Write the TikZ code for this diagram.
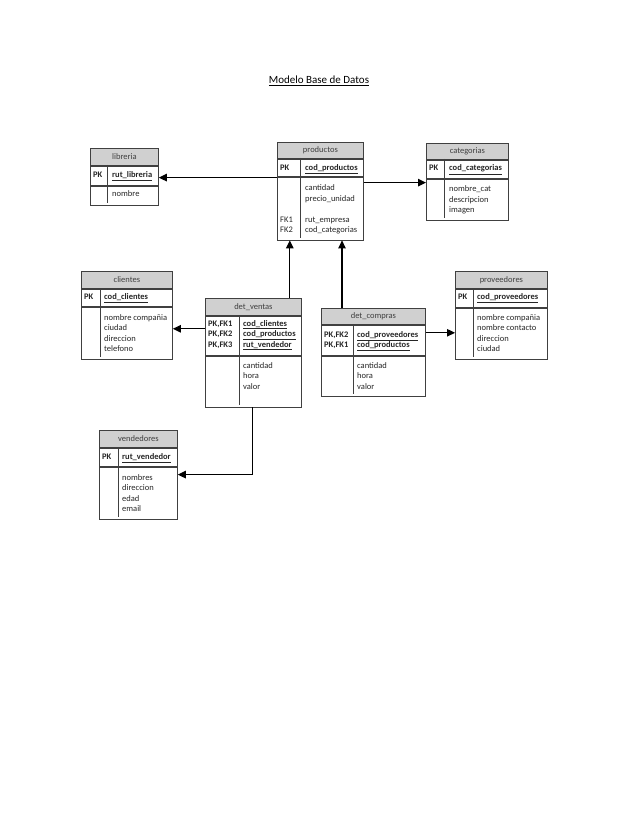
\documentclass[tikz,border=0pt]{standalone}
\usepackage{fontspec}
\setmainfont{Carlito}
\usepackage{xcolor}
\usetikzlibrary{arrows.meta,positioning}
\definecolor{borde}{HTML}{404040}
\definecolor{cabgris}{HTML}{D0D0D0}
\definecolor{textoosc}{HTML}{262626}
\definecolor{textogris}{HTML}{404040}
\newcommand\letracampo{\fontsize{8.5}{10.5}\selectfont}
\tikzset{
  tabcab/.style={draw=borde,fill=cabgris,line width=0.8pt,inner sep=0pt,
    anchor=north west,font=\letracampo,text=textogris},
  tabfila/.style={draw=borde,line width=0.8pt,inner sep=0pt,anchor=north west},
  divisor/.style={draw=borde,line width=0.8pt},
  clave/.style={anchor=base west,inner sep=0pt,align=left,font=\letracampo\bfseries,text=textoosc},
  campo/.style={anchor=base west,inner sep=0pt,align=left,font=\letracampo,text=textoosc},
  flecha/.style={-{Triangle[length=8pt,width=7.5pt]},line width=1.1pt,draw=black}
}

\begin{document}
\begin{tikzpicture}[x=1pt,y=-1pt]
\useasboundingbox (0,0) rectangle (638,826);

\node[font=\fontsize{11}{13}\selectfont] (titulo) at (319,81) {\underline{Modelo Base de Datos}};

% libreria
\node[tabcab,minimum width=68,minimum height=17] (libH) at (90,148) {libreria};
\node[tabfila,minimum width=68,minimum height=19] (libK) at (libH.south west) {};
\node[tabfila,minimum width=68,minimum height=19] (libB) at (libK.south west) {};
\draw[divisor] (107,165) -- (107,203);
\node[clave] (libKc) at (93,177.5) {PK};
\node[clave] (libKf) at (112,177.5) {\underline{rut\_libreria}};
\node[campo] (libBf) at (112,197) {nombre};

% productos
\node[tabcab,minimum width=86,minimum height=16] (prodH) at (277,142) {productos};
\node[tabfila,minimum width=86,minimum height=17] (prodK) at (prodH.south west) {};
\node[tabfila,minimum width=86,minimum height=63] (prodB) at (prodK.south west) {};
\draw[divisor] (300,158) -- (300,238);
\node[clave] (prodKc) at (280,170.5) {PK};
\node[clave] (prodKf) at (305,170.5) {\underline{cod\_productos}};
\node[campo] (prodBc) at (280,233) {FK1\\FK2};
\node[campo] (prodBf) at (305,233) {cantidad\\precio\_unidad\\[10.5pt]rut\_empresa\\cod\_categorias};

% categorias
\node[tabcab,minimum width=82,minimum height=16] (catH) at (426,143) {categorias};
\node[tabfila,minimum width=82,minimum height=18] (catK) at (catH.south west) {};
\node[tabfila,minimum width=82,minimum height=41] (catB) at (catK.south west) {};
\draw[divisor] (444,159) -- (444,218);
\node[clave] (catKc) at (429,171) {PK};
\node[clave] (catKf) at (449,171) {\underline{cod\_categorias}};
\node[campo] (catBf) at (449,213) {nombre\_cat\\descripcion\\imagen};

% clientes
\node[tabcab,minimum width=91,minimum height=17] (cliH) at (81,271) {clientes};
\node[tabfila,minimum width=91,minimum height=17] (cliK) at (cliH.south west) {};
\node[tabfila,minimum width=91,minimum height=52] (cliB) at (cliK.south west) {};
\draw[divisor] (100,288) -- (100,357);
\node[clave] (cliKc) at (84,299.5) {PK};
\node[clave] (cliKf) at (104,299.5) {\underline{cod\_clientes}};
\node[campo] (cliBf) at (104,351.5) {nombre compañia\\ciudad\\direccion\\telefono};

% det_ventas
\node[tabcab,minimum width=96,minimum height=17] (ventH) at (205,298) {det\_ventas};
\node[tabfila,minimum width=96,minimum height=39] (ventK) at (ventH.south west) {};
\node[tabfila,minimum width=96,minimum height=51] (ventB) at (ventK.south west) {};
\draw[divisor] (239,315) -- (239,405);
\node[clave] (ventKc) at (208,347) {PK,FK1\\PK,FK2\\PK,FK3};
\node[clave] (ventKf) at (243,347) {\underline{cod\_clientes}\\\underline{cod\_productos}\\\underline{rut\_vendedor}};
\node[campo] (ventBf) at (243,389) {cantidad\\hora\\valor};

% det_compras
\node[tabcab,minimum width=104,minimum height=16] (compH) at (321,308) {det\_compras};
\node[tabfila,minimum width=104,minimum height=30] (compK) at (compH.south west) {};
\node[tabfila,minimum width=104,minimum height=40] (compB) at (compK.south west) {};
\draw[divisor] (353,324) -- (353,394);
\node[clave] (compKc) at (324,347.5) {PK,FK2\\PK,FK1};
\node[clave] (compKf) at (357,347.5) {\underline{cod\_proveedores}\\\underline{cod\_productos}};
\node[campo] (compBf) at (357,389) {cantidad\\hora\\valor};

% proveedores
\node[tabcab,minimum width=92,minimum height=17] (provH) at (455,271) {proveedores};
\node[tabfila,minimum width=92,minimum height=18] (provK) at (provH.south west) {};
\node[tabfila,minimum width=92,minimum height=51] (provB) at (provK.south west) {};
\draw[divisor] (473,288) -- (473,357);
\node[clave] (provKc) at (458,299.5) {PK};
\node[clave] (provKf) at (477,299.5) {\underline{cod\_proveedores}};
\node[campo] (provBf) at (477,351.5) {nombre compañia\\nombre contacto\\direccion\\ciudad};

% vendedores
\node[tabcab,minimum width=78,minimum height=17] (vendH) at (99,430) {vendedores};
\node[tabfila,minimum width=78,minimum height=18] (vendK) at (vendH.south west) {};
\node[tabfila,minimum width=78,minimum height=52] (vendB) at (vendK.south west) {};
\draw[divisor] (118,447) -- (118,517);
\node[clave] (vendKc) at (102,459.5) {PK};
\node[clave] (vendKf) at (122,459.5) {\underline{rut\_vendedor}};
\node[campo] (vendBf) at (122,511.5) {nombres\\direccion\\edad\\email};

% relaciones
\draw[flecha] ([yshift=-1]prodK.south west) -- ([yshift=-1]prodK.south west -| libK.east);
\draw[flecha] ([yshift=-6]prodB.north east) -- ([yshift=-6]prodB.north east -| catB.west);
\draw[flecha] ([xshift=-12]ventH.north east) -- ([xshift=-12]ventH.north east |- prodB.south);
\draw[flecha] ([xshift=21]compH.north west) -- ([xshift=21]compH.north west |- prodB.south);
\draw[flecha] ([yshift=-13]ventK.north west) -- ([yshift=-13]ventK.north west -| cliB.east);
\draw[flecha] ([yshift=-8]compK.north east) -- ([yshift=-8]compK.north east -| provB.west);
\draw[flecha] ([xshift=-1]ventB.south) |- ([yshift=-8]vendB.north east);
\end{tikzpicture}
\end{document}
